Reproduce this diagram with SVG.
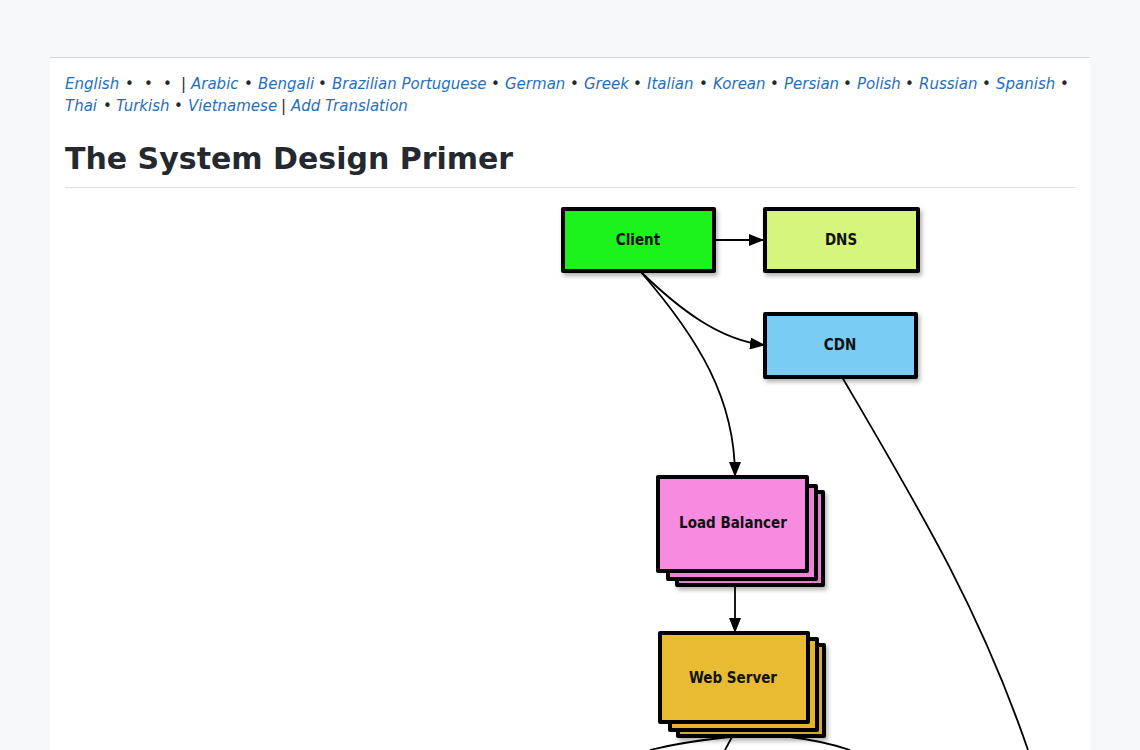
<svg xmlns="http://www.w3.org/2000/svg" width="1140" height="750" viewBox="0 0 1140 750">
<defs>
<style>
.lnk{font-family:"DejaVu Sans",sans-serif;font-style:italic;font-size:15px;fill:#1f6fbf}
.sep{font-family:"DejaVu Sans",sans-serif;font-size:15px;fill:#24292f}
.title{font-family:"DejaVu Sans",sans-serif;font-weight:bold;font-size:30px;fill:#24292f}
.box{stroke:#000;stroke-width:4;stroke-linejoin:round}
.lbl{font-family:"DejaVu Sans Condensed","DejaVu Sans",sans-serif;font-weight:bold;font-size:15px;fill:#111;text-anchor:middle}
.edge{fill:none;stroke:#000;stroke-width:1.8}
</style>
<marker id="arr" markerWidth="15" markerHeight="12" refX="14" refY="6" orient="auto" markerUnits="userSpaceOnUse">
<path d="M0,0 L15,6 L0,12 Z" fill="#000"/>
</marker>
<filter id="sh" x="-10%" y="-10%" width="130%" height="130%">
<feDropShadow dx="2" dy="3" stdDeviation="2" flood-color="#000" flood-opacity="0.3"/>
</filter>
</defs>
<rect x="0" y="0" width="1140" height="750" fill="#f6f8fa"/>
<rect x="50" y="57" width="1040" height="700" fill="#ffffff"/>
<line x1="50" y1="57.5" x2="1090" y2="57.5" stroke="#d0d7de" stroke-width="1"/>
<g id="languages">
<text y="89"><tspan class="lnk" x="65">English</tspan><tspan class="sep" x="125">•</tspan><tspan class="sep" x="144">•</tspan><tspan class="sep" x="163">•</tspan><tspan class="sep" x="181">|</tspan><tspan class="lnk" x="191">Arabic</tspan><tspan class="sep" x="244">•</tspan><tspan class="lnk" x="258">Bengali</tspan><tspan class="sep" x="318">•</tspan><tspan class="lnk" x="332">Brazilian Portuguese</tspan><tspan class="sep" x="491">•</tspan><tspan class="lnk" x="505">German</tspan><tspan class="sep" x="570">•</tspan><tspan class="lnk" x="584">Greek</tspan><tspan class="sep" x="633">•</tspan><tspan class="lnk" x="647">Italian</tspan><tspan class="sep" x="699">•</tspan><tspan class="lnk" x="713">Korean</tspan><tspan class="sep" x="770">•</tspan><tspan class="lnk" x="784">Persian</tspan><tspan class="sep" x="843">•</tspan><tspan class="lnk" x="857">Polish</tspan><tspan class="sep" x="905">•</tspan><tspan class="lnk" x="919">Russian</tspan><tspan class="sep" x="982">•</tspan><tspan class="lnk" x="996">Spanish</tspan><tspan class="sep" x="1060">•</tspan></text>
<text y="111"><tspan class="lnk" x="65">Thai</tspan><tspan class="sep" x="103">•</tspan><tspan class="lnk" x="116">Turkish</tspan><tspan class="sep" x="174">•</tspan><tspan class="lnk" x="188">Vietnamese</tspan><tspan class="sep" x="281">|</tspan><tspan class="lnk" x="291">Add Translation</tspan></text>
</g>
<text class="title" x="65" y="169">The System Design Primer</text>
<line x1="65" y1="187.5" x2="1075" y2="187.5" stroke="#d8dee4" stroke-width="1"/>
<g id="connectors">
<path class="edge" d="M714,240 L763,240" marker-end="url(#arr)"/>
<path class="edge" d="M640,271 C680,310 720,340 764,345" marker-end="url(#arr)"/>
<path class="edge" d="M640,271 C700,340 735,400 735,476" marker-end="url(#arr)"/>
<path class="edge" d="M735,571 L735,632" marker-end="url(#arr)"/>
<path class="edge" d="M842,377 C920,510 980,610 1028,750"/>
<path class="edge" d="M730,737 C700,740 670,745 650,750"/>
<path class="edge" d="M732,737 L725,750"/>
<path class="edge" d="M790,737 C815,740 835,745 850,750"/>
</g>
<g id="client">
<rect class="box" x="563" y="209" width="151" height="62" fill="#1ef21e" filter="url(#sh)"/>
<text class="lbl" x="638" y="245">Client</text>
</g>
<g id="dns">
<rect class="box" x="765" y="209" width="153" height="62" fill="#d5f57c" filter="url(#sh)"/>
<text class="lbl" x="841" y="245">DNS</text>
</g>
<g id="cdn">
<rect class="box" x="765" y="314" width="151" height="63" fill="#79cdf4" filter="url(#sh)"/>
<text class="lbl" x="840" y="350">CDN</text>
</g>
<g id="load-balancer">
<rect class="box" x="677" y="492" width="146" height="93" fill="#e57fcd" filter="url(#sh)"/>
<rect class="box" x="668" y="486" width="148" height="93" fill="#ec83d6"/>
<rect class="box" x="658" y="477" width="149" height="94" fill="#f78be0"/>
<text class="lbl" x="733" y="528">Load Balancer</text>
</g>
<g id="web-server">
<rect class="box" x="678" y="645" width="146" height="91" fill="#d9ab2b" filter="url(#sh)"/>
<rect class="box" x="670" y="639" width="147" height="91" fill="#e2b42f"/>
<rect class="box" x="660" y="633" width="148" height="89" fill="#e9bb33"/>
<text class="lbl" x="733" y="683">Web Server</text>
</g>
</svg>
